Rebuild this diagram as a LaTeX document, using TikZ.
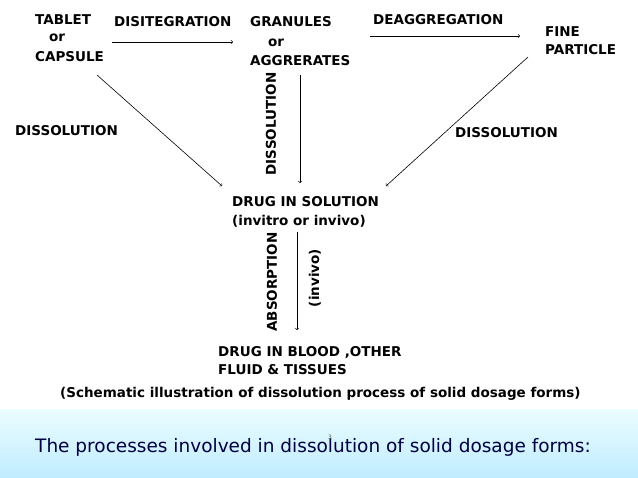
\documentclass[tikz,border=0pt]{standalone}
\usepackage{fontspec}
\setmainfont{DejaVu Sans}
\begin{document}
\begin{tikzpicture}[x=1pt,y=-1pt,
 t/.style={font=\bfseries\fontsize{13.5}{15}\selectfont,anchor=west,inner sep=0pt,align=left},
 a/.style={->,semithick}]
\useasboundingbox (0,0) rectangle (638,478);
\fill[white] (0,0) rectangle (638,478);
\shade[top color=blue!10!cyan!8,bottom color=blue!30!cyan!25] (0,410) rectangle (638,478);
\node[t] (tab) at (35,20) {TABLET};
\node[t] (or1) at (49,38) {or};
\node[t] (cap) at (35,57) {CAPSULE};
\node[t] (dis) at (114,22) {DISITEGRATION};
\node[t] (gra) at (250,22) {GRANULES};
\node[t] (or2) at (268,43) {or};
\node[t] (agg) at (250,61) {AGGRERATES};
\node[t] (dea) at (373,20) {DEAGGREGATION};
\node[t] (fin) at (545,32) {FINE};
\node[t] (par) at (545,50) {PARTICLE};
\node[t] (d1) at (15,131) {DISSOLUTION};
\node[t,rotate=90,anchor=center] (d2) at (271,124) {DISSOLUTION};
\node[t] (d3) at (455,133) {DISSOLUTION};
\node[t] (sol) at (232,202) {DRUG IN SOLUTION};
\node[t] (inv) at (232,221) {(invitro or invivo)};
\node[t,rotate=90,anchor=center] (abs) at (272,282) {ABSORPTION};
\node[t,rotate=90,anchor=center] (iv) at (315,278) {(invivo)};
\node[t] (bl) at (218,352) {DRUG IN BLOOD ,OTHER};
\node[t] (fl) at (218,370) {FLUID \& TISSUES};
\node[t] (capn) at (60,394) {(Schematic illustration of dissolution process of solid dosage forms)};
\coordinate (a1s) at (112,42); \coordinate (a1e) at (233,42);
\coordinate (a2s) at (370,36); \coordinate (a2e) at (520,36);
\coordinate (a3s) at (97,75); \coordinate (a3e) at (222,186);
\coordinate (a4s) at (300,75); \coordinate (a4e) at (300,183);
\coordinate (a5s) at (528,57); \coordinate (a5e) at (386,186);
\coordinate (a6s) at (297,232); \coordinate (a6e) at (297,330);
\draw[a] (a1s) -- (a1e);
\draw[a] (a2s) -- (a2e);
\draw[a] (a3s) -- (a3e);
\draw[a] (a4s) -- (a4e);
\draw[a] (a5s) -- (a5e);
\draw[a] (a6s) -- (a6e);
\node[font=\fontsize{18.5}{20}\selectfont,text=black!75!blue,anchor=west,inner sep=0pt] (ft) at (35,447) {The processes involved in dissolution of solid dosage forms:};
\node[font=\fontsize{6}{7}\selectfont,text=black!60,inner sep=0pt] (pg) at (330,437) {3};
\end{tikzpicture}
\end{document}
